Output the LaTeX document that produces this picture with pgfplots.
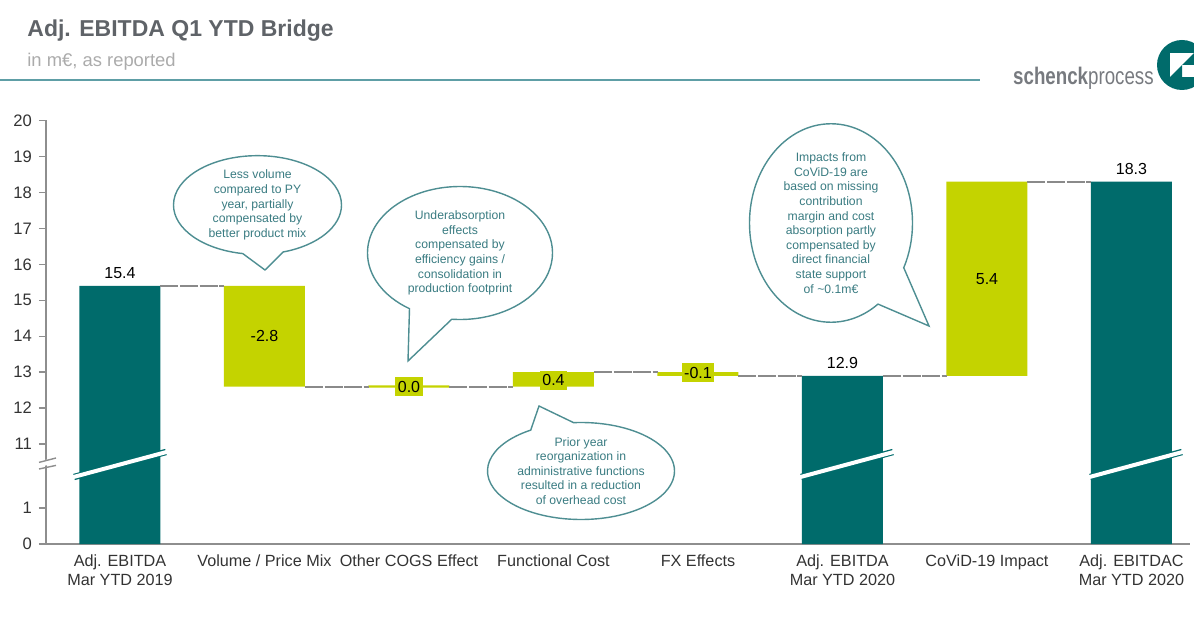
\documentclass[border=0pt]{standalone}
\usepackage{pgfplots}
\pgfplotsset{compat=1.18}
\usepackage{pgfplotstable}
\usepackage{fontspec}
\setmainfont{Liberation Sans}
\usetikzlibrary{shapes.callouts}

\definecolor{spTeal}{HTML}{006B6B}
\definecolor{spLime}{HTML}{C4D300}
\definecolor{spLine}{HTML}{5E9EA6}
\definecolor{spTitle}{HTML}{5F6368}
\definecolor{spSub}{HTML}{ABABAB}
\definecolor{spCall}{HTML}{4E8E92}
\definecolor{spCallText}{HTML}{3A7C82}
\definecolor{spAxis}{HTML}{8E8E8E}
\definecolor{spConn}{HTML}{8A8A8A}
\definecolor{spText}{HTML}{333333}

% bridge in m EUR: low and high end of each bar (totals start at 0)
\pgfplotstableread{
cat low   high
0   0     15.4
1   12.6  15.4
2   12.57 12.63
3   12.6  13.0
4   12.9  13.0
5   0     12.9
6   12.9  18.3
7   0     18.3
}\bridge

% the y axis is broken between 1 and 11: values above 10 are moved down by 8.22
\pgfplotsset{
  sp frame/.style={
    at={(23pt,41.5pt)}, anchor=south west,
    scale only axis, width=572pt, height=212.1pt,
    xmin=-0.512, xmax=7.405, ymin=0, ymax=11.8,
    clip=false,
  },
}

\begin{document}
\begin{tikzpicture}
\useasboundingbox (0,0) rectangle (597pt,313.5pt);

% header
\node[anchor=base west, inner sep=0, font=\fontsize{11.5}{13}\selectfont\bfseries, text=spTitle]
  at (13.5pt,295pt) {Adj. EBITDA Q1 YTD Bridge};
\node[anchor=base west, inner sep=0, font=\fontsize{9.2}{11}\selectfont, text=spSub]
  at (13.5pt,280pt) {in m€, as reported};
\draw[spLine, line width=1pt] (0,273.5pt) -- (490pt,273.5pt);
\node[anchor=base east, inner sep=0, xscale=0.78, font=\fontsize{12}{14}\selectfont, text=spTitle!85]
  at (577pt,271pt) {\textbf{schenck}process};
% logo mark
\fill[spTeal] (591pt,281pt) circle (12.5pt);
\fill[white] (585pt,275pt) rectangle (597pt,287pt);
\fill[spTeal] (591pt,281pt) -- (597pt,281pt) -- (597pt,287pt) -- cycle;
\fill[spTeal] (585pt,275pt) -- (591pt,275pt) -- (591pt,281pt) -- cycle;

\begin{axis}[
  sp frame,
  axis lines=left,
  axis line style={-, draw=spAxis, line width=1pt},
  ybar stacked, bar width=40.5pt,
  xtick={0,...,7},
  xticklabels={{Adj. EBITDA\\Mar YTD 2019},{Volume / Price Mix},{Other COGS Effect},{Functional Cost},{FX Effects},{Adj. EBITDA\\Mar YTD 2020},{CoViD-19 Impact},{Adj. EBITDAC\\Mar YTD 2020}},
  major x tick style={draw=none},
  xticklabel style={align=center, font=\fontsize{8.1}{9.5}\selectfont, text=spText, yshift=1.5pt},
  ytick={0,1,2.78,3.78,4.78,5.78,6.78,7.78,8.78,9.78,10.78,11.78},
  yticklabels={0,1,11,12,13,14,15,16,17,18,19,20},
  ytick style={draw=spAxis, line width=0.7pt},
  tick align=outside, major tick length=3.5pt,
  yticklabel style={font=\fontsize{8.3}{10}\selectfont, text=spText},
  /pgf/number format/assume math mode=true,
]
\addplot[draw=none, fill=none] table[x=cat, y expr={\thisrow{low}>1 ? \thisrow{low}-8.22 : 0}] {\bridge};
\addplot[draw=none, fill=spTeal] table[x=cat, y expr={\thisrow{low}<1 ? \thisrow{high}-8.22 : 0}] {\bridge};
\addplot[draw=none, fill=spLime] table[x=cat, y expr={\thisrow{low}<1 ? 0 : \thisrow{high}-\thisrow{low}}] {\bridge};
\end{axis}

\begin{axis}[
  sp frame, hide axis,
  y filter/.expression={y>5 ? y-8.22 : y},
]
% connectors
\addplot[spConn, line width=1pt, dash pattern=on 9pt off 0.8pt] coordinates {(0.28,15.4) (0.72,15.4)};
\addplot[spConn, line width=1pt, dash pattern=on 9pt off 0.8pt] coordinates {(1.28,12.6) (1.72,12.6)};
\addplot[spConn, line width=1pt, dash pattern=on 9pt off 0.8pt] coordinates {(2.28,12.6) (2.72,12.6)};
\addplot[spConn, line width=1pt, dash pattern=on 9pt off 0.8pt] coordinates {(3.28,13.0) (3.72,13.0)};
\addplot[spConn, line width=1pt, dash pattern=on 9pt off 0.8pt] coordinates {(4.28,12.9) (4.72,12.9)};
\addplot[spConn, line width=1pt, dash pattern=on 9pt off 0.8pt] coordinates {(5.28,12.9) (5.72,12.9)};
\addplot[spConn, line width=1pt, dash pattern=on 9pt off 0.8pt] coordinates {(6.28,18.3) (6.72,18.3)};
% value labels
\addplot[draw=none, mark=none, nodes near coords, point meta=explicit symbolic,
  nodes near coords style={anchor=south, font=\fontsize{8}{9}\selectfont, text=black}]
  coordinates {(0,15.4)[15.4] (5,12.9)[12.9] (7,18.3)[18.3]};
\addplot[draw=none, mark=none, nodes near coords, point meta=explicit symbolic,
  nodes near coords style={anchor=center, font=\fontsize{8}{9}\selectfont, text=black}]
  coordinates {(1,14.0)[-2.8] (6,15.6)[5.4]};
\addplot[draw=none, mark=none, nodes near coords, point meta=explicit symbolic,
  nodes near coords style={anchor=center, font=\fontsize{8}{9}\selectfont, text=black,
    fill=spLime, inner xsep=1.3pt, inner ysep=0pt, minimum height=9.5pt}]
  coordinates {(2,12.6)[0.0] (3,12.78)[0.4] (4,12.98)[-0.1]};
\end{axis}

% axis and bar breaks
\fill[white] (18pt,79.8pt) -- (29pt,82pt) -- (29pt,84.8pt) -- (18pt,82.6pt) -- cycle;
\draw[spAxis, line width=0.7pt] (19.5pt,79pt) -- (28pt,80.8pt);
\draw[spAxis, line width=0.7pt] (19.5pt,82.3pt) -- (28pt,84.5pt);
\foreach \cx in {60,423.5,568}{
  \draw[spTeal, line width=3.2pt] (\cx pt-23pt,75pt) -- (\cx pt+23pt,87.5pt);
  \draw[white, line width=2pt] (\cx pt-24pt,74.8pt) -- (\cx pt+24pt,87.7pt);
}

% callouts
\tikzset{sp call/.style={ellipse callout, draw=spCall, line width=0.7pt, fill=white,
  inner sep=0pt, align=center, callout pointer arc=28,
  font=\fontsize{6.1}{7.3}\selectfont, text=spCallText}}
\node[sp call, minimum width=84pt, minimum height=45pt, callout absolute pointer={(132.5pt,178.5pt)}]
  at (128.75pt,211pt) {Less volume\\compared to PY\\year, partially\\compensated by\\better product mix};
\node[sp call, minimum width=92.5pt, minimum height=66.5pt, callout absolute pointer={(204pt,133pt)}]
  at (230pt,187pt) {Underabsorption\\effects\\compensated by\\efficiency gains /\\consolidation in\\production footprint};
\node[sp call, minimum width=93.5pt, minimum height=48.5pt, callout absolute pointer={(269.5pt,110.5pt)}]
  at (290.5pt,78pt) {Prior year\\reorganization in\\administrative functions\\resulted in a reduction\\of overhead cost};
\node[sp call, minimum width=81.5pt, minimum height=84pt, callout absolute pointer={(464.5pt,150.5pt)}]
  at (415.5pt,202pt) {Impacts from\\CoViD-19 are\\based on missing\\contribution\\margin and cost\\absorption partly\\compensated by\\direct financial\\state support\\of \textasciitilde0.1m€};
\end{tikzpicture}
\end{document}
